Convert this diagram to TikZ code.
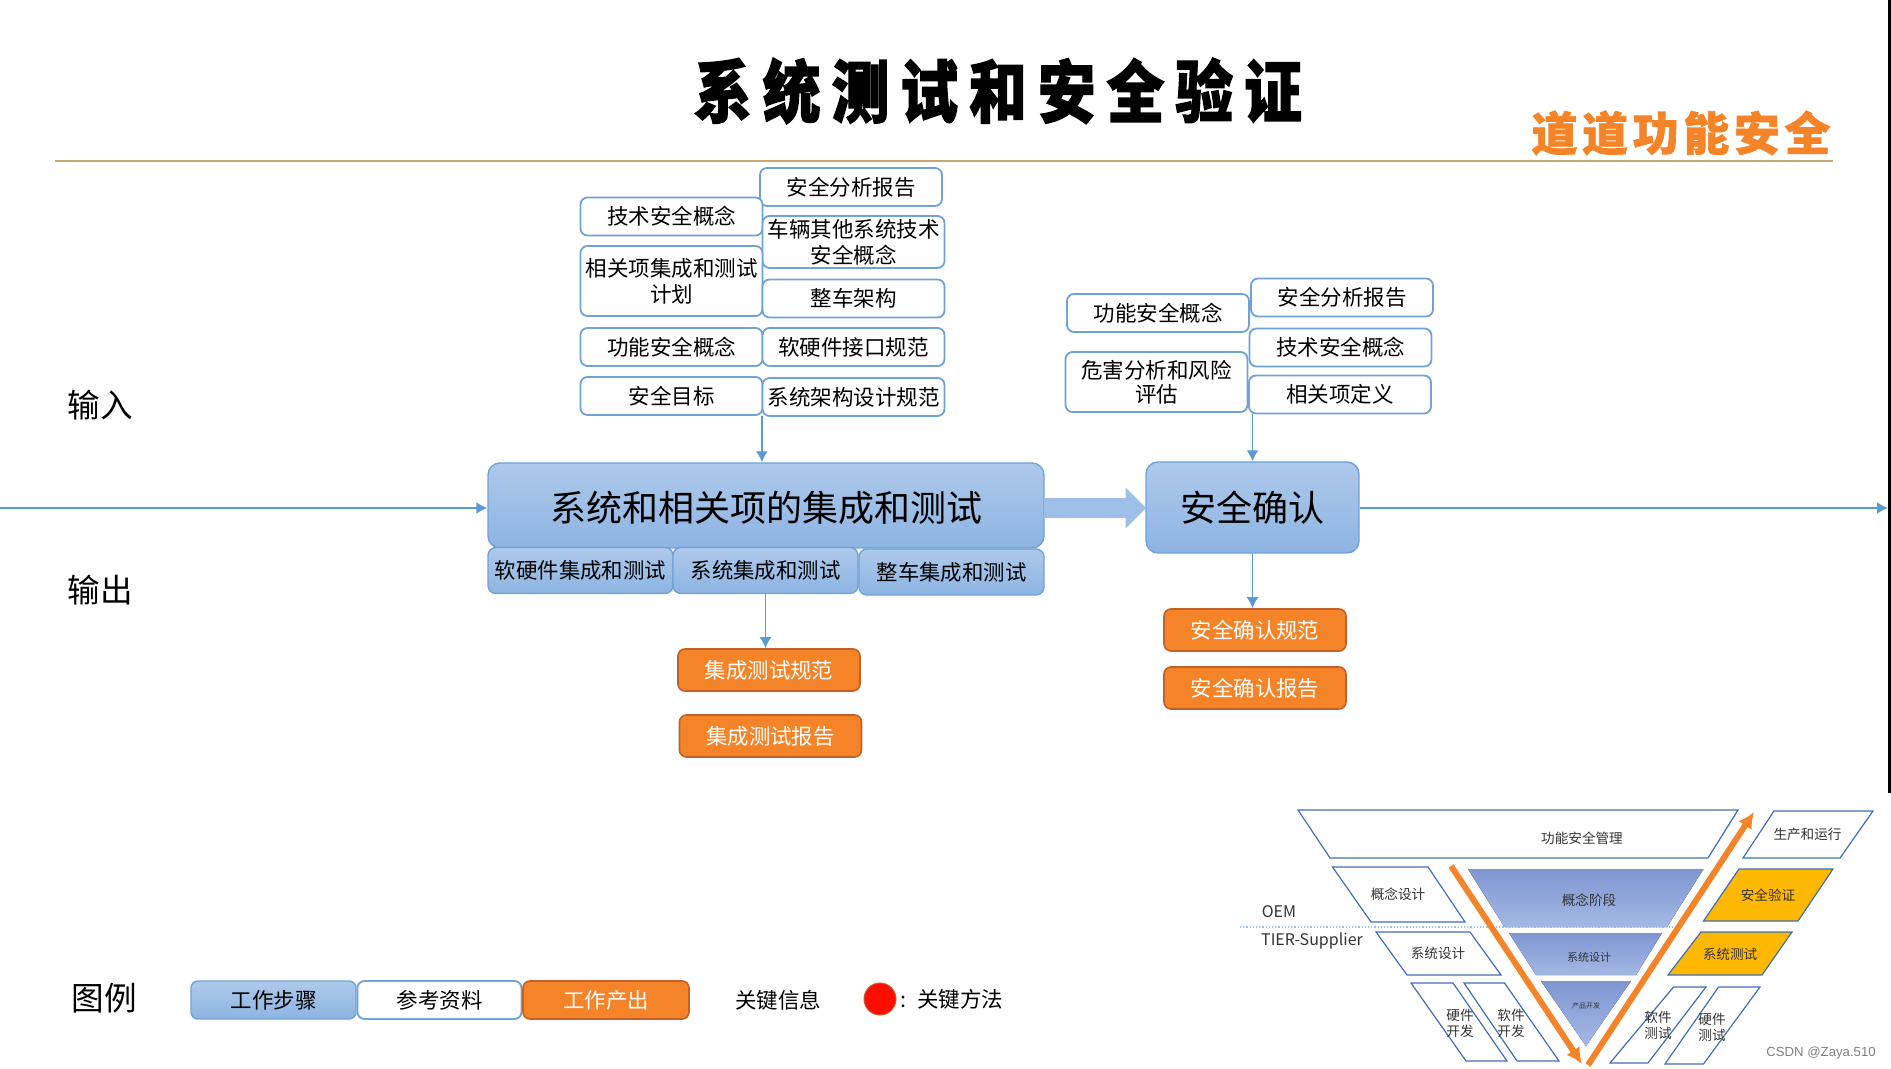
\documentclass[tikz,border=0pt]{standalone}
\usepackage{fontspec}
\setmainfont{Noto Sans CJK SC}
\newfontfamily\csdnfont{Liberation Sans}
\usetikzlibrary{arrows.meta,shapes.arrows}
\definecolor{flowblue}{HTML}{5B9BD5}
\definecolor{boxblue}{HTML}{6FA3D8}
\definecolor{topblue}{HTML}{AEC9EA}
\definecolor{lowblue}{HTML}{8DB4E3}
\definecolor{workorange}{HTML}{F58429}
\definecolor{edgeorange}{HTML}{C0602A}
\definecolor{ruletan}{HTML}{C8A674}
\definecolor{vblue}{HTML}{3F6FB5}
\definecolor{vtop}{HTML}{7F96D2}
\definecolor{vlow}{HTML}{A4B9E4}
\definecolor{vyellow}{HTML}{FFB800}
\tikzset{%
	refbox/.style   = {draw=boxblue, line width=.9pt, fill=white, rectangle, rounded corners=3.5pt, align=center, inner sep=0pt, minimum width=91pt, minimum height=19pt, font=\fontsize{10.75}{13}\selectfont},
	stepbox/.style  = {draw=boxblue, line width=.7pt, top color=topblue, bottom color=lowblue, rectangle, rounded corners=5pt, inner sep=0pt}, % Process step
	subbox/.style   = {stepbox, rounded corners=4pt, minimum width=92.5pt, minimum height=23pt, font=\fontsize{10.7}{13}\selectfont},
	outbox/.style   = {draw=edgeorange, line width=.8pt, fill=workorange, text=white, rectangle, rounded corners=3.5pt, inner sep=0pt, minimum width=91pt, minimum height=21pt, font=\fontsize{10.7}{13}\selectfont}, % Work product
	flow/.style     = {draw=flowblue, line width=.7pt, -{Latex[length=5.5pt,width=6pt]}},
	bigarrow/.style = {single arrow, fill=lowblue!85!white, draw=none, inner xsep=0pt, inner ysep=4.75pt, minimum height=50.5pt, minimum width=20pt, single arrow head extend=5.25pt},
	vbox/.style     = {draw=vblue, line width=.6pt, fill=white, line join=miter},
	vfill/.style    = {top color=vtop, bottom color=vlow},
	vdone/.style    = {draw=vblue, line width=.6pt, fill=vyellow},
	vtext/.style    = {inner sep=0pt, align=center, text=black!80, font=\fontsize{6.8}{8}\selectfont},
	varrow/.style   = {draw=workorange, line width=3pt, -{Latex[length=8pt,width=8pt]}},
	plain/.style    = {inner sep=0pt, align=center},
}
\begin{document}
\begin{tikzpicture}[x=.5pt,y=-.5pt]
	\useasboundingbox (0,0) rectangle (1891,1069);
	% title
	\node[plain,text=black,xscale=.85,transform shape,font=\fontsize{34}{36}\selectfont\bfseries\addfontfeature{LetterSpace=19,FakeBold=2}] (title) at (998,91) {系统测试和安全验证};
	\node[plain,text=workorange,font=\fontsize{23}{26}\selectfont\bfseries\addfontfeature{LetterSpace=10,FakeBold=1.5}] (brand) at (1681,133) {道道功能安全};
	\coordinate (ruleL) at (55,161);
	\coordinate (ruleR) at (1833,161);
	\draw[ruletan,line width=1pt] (ruleL) -- (ruleR);
	\coordinate (edgeT) at (1889.5,0);
	\coordinate (edgeB) at (1889.5,793);
	\draw[black,line width=1.5pt] (edgeT) -- (edgeB);
	\node[plain,font=\fontsize{16.3}{18}\selectfont] (inlabel) at (100.5,405) {输入};
	\node[plain,font=\fontsize{16.3}{18}\selectfont] (outlabel) at (100.5,590) {输出};
	% inputs of integration
	\node[refbox] (isafety) at (851,187) {安全分析报告};
	\node[refbox] (itech) at (671.5,216.5) {技术安全概念};
	\node[refbox,minimum height=26pt] (iother) at (853.5,242) {车辆其他系统技术\\安全概念};
	\node[refbox,minimum height=35pt] (iplan) at (671.5,281) {相关项集成和测试\\计划};
	\node[refbox] (ivehicle) at (853.5,298.5) {整车架构};
	\node[refbox] (ifunc) at (671.5,347) {功能安全概念};
	\node[refbox] (iiface) at (853.5,347) {软硬件接口规范};
	\node[refbox] (igoal) at (671.5,396) {安全目标};
	\node[refbox] (iarch) at (853.5,397) {系统架构设计规范};
	% integration
	\node[stepbox,minimum width=278pt,minimum height=42.5pt,rounded corners=6pt,text height=16pt,text depth=0pt,font=\fontsize{18}{22}\selectfont] (integ) at (766,505.5) {系统和相关项的集成和测试};
	\node[subbox] (subhw) at (580.5,570.5) {软硬件集成和测试};
	\node[subbox] (subsys) at (765.5,570.5) {系统集成和测试};
	\node[subbox] (subcar) at (951.5,572) {整车集成和测试};
	\node[outbox] (ospec) at (769,670) {集成测试规范};
	\node[outbox] (oreport) at (770.5,736) {集成测试报告};
	% inputs of validation
	\node[refbox] (vfunc) at (1158,313) {功能安全概念};
	\node[refbox] (vsafety) at (1342,297.5) {安全分析报告};
	\node[refbox] (vtech) at (1340.5,347.5) {技术安全概念};
	\node[refbox,minimum height=30pt,font=\fontsize{10.75}{12.2}\selectfont] (vhara) at (1156.5,382) {危害分析和风险\\评估};
	\node[refbox] (vitem) at (1340,394.5) {相关项定义};
	% validation
	\node[stepbox,minimum width=106.5pt,minimum height=45.5pt,rounded corners=6pt,font=\fontsize{18}{22}\selectfont] (valid) at (1252.5,507.5) {安全确认};
	\node[outbox] (vspec) at (1255,630) {安全确认规范};
	\node[outbox] (vreport) at (1255,688) {安全确认报告};
	% flow lines
	\coordinate (start) at (0,508);
	\coordinate (finish) at (1888,508);
	\node[bigarrow,anchor=tail] (pass) at (integ.east |- start) {};
	\draw[flow] (start) -- (integ.west |- start);
	\draw[flow] (valid.east |- finish) -- (finish);
	\draw[flow] ([xshift=-.75pt]igoal.south east) -- ([xshift=-.75pt]igoal.south east |- integ.north);
	\draw[flow] (subsys.south) -- (subsys.south |- ospec.north);
	\draw[flow] (vitem.south west -| valid.north) -- (valid.north);
	\draw[flow] (valid.south) -- (valid.south |- vspec.north);
	% legend
	\node[plain,font=\fontsize{16.3}{18}\selectfont] (legend) at (104,998) {图例};
	\node[stepbox,minimum width=82.5pt,minimum height=19pt,rounded corners=3.5pt,font=\fontsize{10.75}{12}\selectfont] (keystep) at (273.5,1000) {工作步骤};
	\node[refbox,minimum width=82pt] (keyref) at (439.5,1000) {参考资料};
	\node[outbox,minimum width=83pt,minimum height=19pt] (keyout) at (606,1000) {工作产出};
	\node[plain,font=\fontsize{10.75}{12}\selectfont] (keyinfo) at (778,1000) {关键信息};
	\node[draw=edgeorange,line width=.5pt,fill=red!90!orange,circle,inner sep=0pt,minimum size=16pt] (keydot) at (880,999) {};
	\node[plain,anchor=west,font=\fontsize{10.75}{12}\selectfont] (keymethod) at (keydot.east) {\,:\hspace{5.5pt}关键方法};
	% V model
	\draw[vbox] (1298,810) -- (1738,810) -- (1708,858) -- (1330,858) -- cycle;
	\node[vtext] (vmgmt) at (1582,838) {功能安全管理};
	\draw[vbox] (1774,811) -- (1873,811) -- (1840,858) -- (1743,858) -- cycle;
	\node[vtext] (vprod) at (1807.5,834) {生产和运行};
	\draw[vbox] (1332.5,867) -- (1428,867) -- (1465,922) -- (1371,922) -- cycle;
	\node[vtext] (vconcept) at (1398,894) {概念设计};
	\draw[vbox] (1376,932) -- (1470,932) -- (1501,975) -- (1407,975) -- cycle;
	\node[vtext] (vsysd) at (1438,953) {系统设计};
	\draw[vbox] (1411,983) -- (1453,983) -- (1507,1061) -- (1466,1061) -- cycle;
	\node[vtext] (vhwdev) at (1460,1023) {硬件\\开发};
	\draw[vbox] (1464,983) -- (1504.5,983) -- (1559,1061) -- (1517,1061) -- cycle;
	\node[vtext] (vswdev) at (1511,1023) {软件\\开发};
	\fill[vfill] (1468,869) -- (1703.5,869) -- (1667,927) -- (1504.5,927) -- cycle;
	\node[vtext] (vphase) at (1589,900) {概念阶段};
	\fill[vfill] (1509,933) -- (1662,933) -- (1636,975) -- (1536,975) -- cycle;
	\node[vtext,font=\fontsize{5.5}{7}\selectfont] (vsysm) at (1589,957) {系统设计};
	\fill[vfill] (1541,981) -- (1631,981) -- (1586,1046) -- cycle;
	\node[vtext,font=\fontsize{3.5}{4}\selectfont] (vprodm) at (1586,1006) {产品开发};
	\draw[vdone] (1739,869) -- (1833,869) -- (1798,921) -- (1703.5,921) -- cycle;
	\node[vtext] (vsafe) at (1768,895) {安全验证};
	\draw[vdone] (1701,932) -- (1792,932) -- (1762,975) -- (1668,975) -- cycle;
	\node[vtext] (vsyst) at (1730,954) {系统测试};
	\draw[vbox] (1673.5,987) -- (1706,987) -- (1648,1063) -- (1610,1063) -- cycle;
	\node[vtext] (vswt) at (1658,1025) {软件\\测试};
	\draw[vbox] (1718.5,987) -- (1760,987) -- (1703.5,1064) -- (1665,1064) -- cycle;
	\node[vtext] (vhwt) at (1712,1027) {硬件\\测试};
	\coordinate (oemL) at (1240,927);
	\coordinate (oemR) at (1680,927);
	\draw[boxblue!70,line width=.6pt,densely dotted] (oemL) -- (oemR);
	\node[plain,font=\fontsize{8}{10}\selectfont,text=black!80] (oem) at (1279,912) {OEM};
	\node[plain,font=\fontsize{8}{10}\selectfont,text=black!80] (tier) at (1312,941) {TIER-Supplier};
	\coordinate (downA) at (1451,866);
	\coordinate (downB) at (1582,1064);
	\coordinate (upA) at (1588,1065);
	\coordinate (upB) at (1754,812);
	\draw[varrow] (downA) -- (downB);
	\draw[varrow] (upA) -- (upB);
	\node[plain,text=black!50,font=\csdnfont\fontsize{6.6}{8}\selectfont] (csdn) at (1821,1053) {CSDN @Zaya.510};
\end{tikzpicture}
\end{document}
